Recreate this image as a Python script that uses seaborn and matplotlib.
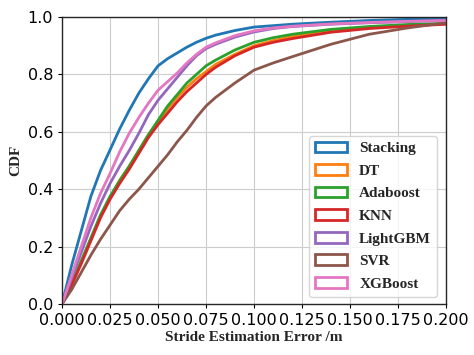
import numpy as np
import pandas as pd
import matplotlib
matplotlib.use("Agg")
import matplotlib.pyplot as plt
import seaborn as sns
from matplotlib.patches import Patch

# ------------------------------------------------------------
# Data (CDF values)
# ------------------------------------------------------------

error = [0.0, 0.005, 0.01, 0.015, 0.02, 0.025, 0.03, 0.035, 0.04, 0.045,
         0.05, 0.055, 0.06, 0.065, 0.07, 0.075, 0.08, 0.09, 0.10, 0.11,
         0.12, 0.14, 0.16, 0.18, 0.20]

stacking = [0.0, 0.135, 0.255, 0.375, 0.465, 0.537, 0.61, 0.675, 0.735, 0.785,
            0.83, 0.855, 0.875, 0.895, 0.912, 0.926, 0.937, 0.953, 0.965, 0.97,
            0.975, 0.982, 0.988, 0.992, 0.995]
dt = [0.0, 0.07, 0.15, 0.225, 0.305, 0.37, 0.43, 0.48, 0.535, 0.59,
      0.635, 0.68, 0.72, 0.755, 0.785, 0.81, 0.835, 0.87, 0.90, 0.918,
      0.932, 0.952, 0.964, 0.971, 0.976]
adaboost = [0.0, 0.07, 0.15, 0.23, 0.31, 0.375, 0.43, 0.48, 0.535, 0.59,
            0.64, 0.69, 0.73, 0.77, 0.80, 0.83, 0.85, 0.885, 0.912, 0.928,
            0.94, 0.957, 0.967, 0.974, 0.978]
knn = [0.0, 0.065, 0.14, 0.22, 0.30, 0.365, 0.42, 0.47, 0.525, 0.58,
       0.625, 0.665, 0.705, 0.74, 0.77, 0.80, 0.825, 0.865, 0.895, 0.912,
       0.925, 0.947, 0.96, 0.968, 0.975]
lightgbm = [0.0, 0.09, 0.18, 0.27, 0.35, 0.42, 0.48, 0.535, 0.595, 0.66,
            0.71, 0.75, 0.79, 0.83, 0.865, 0.89, 0.905, 0.93, 0.948, 0.96,
            0.967, 0.975, 0.98, 0.984, 0.988]
svr = [0.0, 0.05, 0.11, 0.17, 0.225, 0.275, 0.325, 0.365, 0.40, 0.44,
       0.48, 0.52, 0.565, 0.605, 0.65, 0.69, 0.72, 0.77, 0.815, 0.84,
       0.862, 0.905, 0.94, 0.962, 0.98]
xgboost = [0.0, 0.10, 0.20, 0.30, 0.385, 0.455, 0.53, 0.595, 0.65, 0.70,
           0.745, 0.775, 0.805, 0.84, 0.87, 0.895, 0.91, 0.935, 0.952, 0.962,
           0.968, 0.976, 0.981, 0.985, 0.988]

models = ["Stacking", "DT", "Adaboost", "KNN", "LightGBM", "SVR", "XGBoost"]
series = [stacking, dt, adaboost, knn, lightgbm, svr, xgboost]

frames = []
for name, values in zip(models, series):
    frames.append(pd.DataFrame({"Error": error, "CDF": values, "Model": name}))
df = pd.concat(frames, ignore_index=True)

# ------------------------------------------------------------
# Plot
# ------------------------------------------------------------

sns.set_style("whitegrid", {
    "axes.edgecolor": "0.15",
    "grid.color": "0.8",
    "xtick.bottom": True,
    "ytick.left": True,
})

fig, ax = plt.subplots(figsize=(4.74, 3.55), dpi=100)

palette = sns.color_palette("tab10", len(models))

sns.lineplot(
    data=df,
    x="Error",
    y="CDF",
    hue="Model",
    hue_order=models,
    palette=palette,
    linewidth=2,
    legend=False,
    ax=ax
)

ax.set_xlim(0, 0.2)
ax.set_ylim(0, 1.0)
ax.set_xticks(np.arange(0, 0.2001, 0.025))
ax.set_yticks(np.arange(0, 1.01, 0.2))
ax.tick_params(labelsize=11.5, colors="black", length=3)

serif = {"family": ["Liberation Serif", "DejaVu Serif"], "weight": "bold", "size": 11}
ax.set_xlabel("Stride Estimation Error /m", fontdict=serif, labelpad=2)
ax.set_ylabel("CDF", fontdict=serif, labelpad=4)

for spine in ax.spines.values():
    spine.set_linewidth(1.0)

handles = [Patch(facecolor="none", edgecolor=c, linewidth=2) for c in palette]
ax.legend(
    handles, models,
    loc="lower right",
    bbox_to_anchor=(0.997, -0.002),
    prop={"family": ["Liberation Serif", "DejaVu Serif"], "weight": "bold", "size": 11},
    handlelength=2.1,
    labelspacing=0.58,
    frameon=True,
)

plt.subplots_adjust(left=0.131, right=0.941, top=0.952, bottom=0.144)

plt.savefig("out.png", dpi=100)
